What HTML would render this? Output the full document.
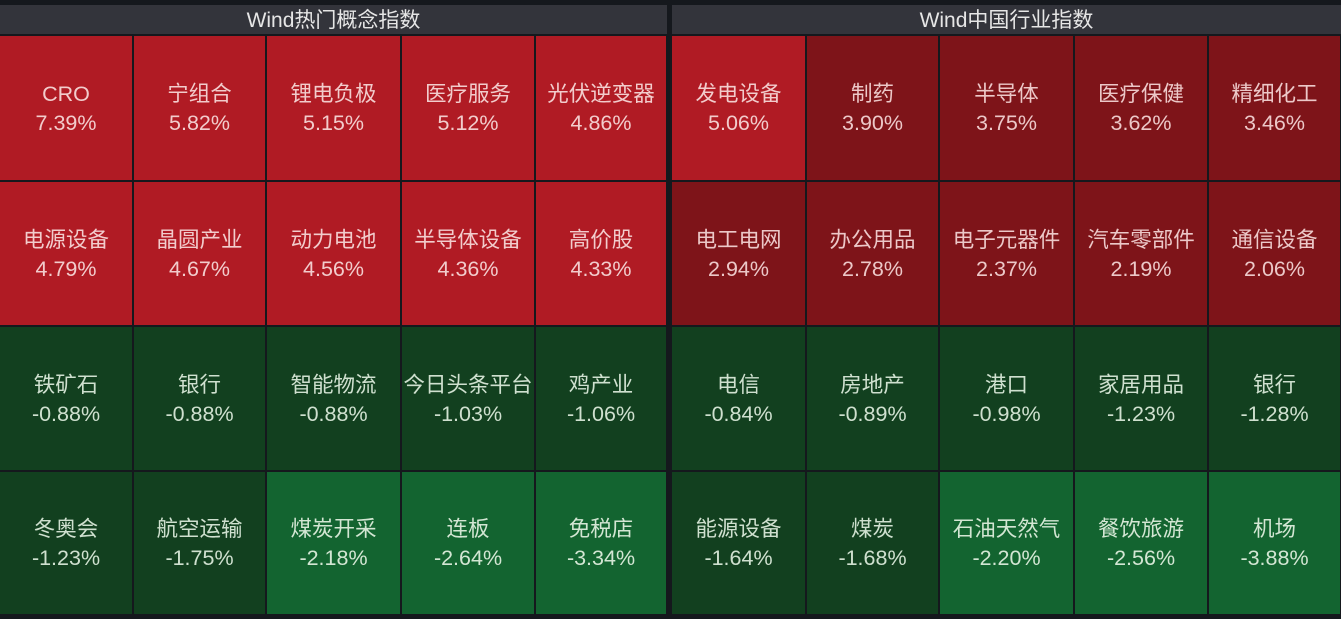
<!DOCTYPE html>
<html><head><meta charset="utf-8"><style>
body{margin:0;width:1341px;height:619px;background:#15181d;position:relative;overflow:hidden;font-family:"Liberation Sans","Noto Sans CJK SC",sans-serif;}
.h{position:absolute;top:5px;height:29px;background:#33343b;color:#e6e6e6;font-size:21px;line-height:31px;text-align:center;}
.c{position:absolute;display:flex;flex-direction:column;justify-content:center;align-items:center;font-size:21.5px;line-height:29px;padding-top:2px;color:#e8d0d0;box-sizing:border-box;}
.R{background:#b01b24;color:#f2cccc}.D{background:#7e1419;color:#ecc8c8}.G{background:#12401f;color:#cfe0cf}.L{background:#136430;color:#d3e6d3}
</style></head><body>
<div class="h" style="left:0;width:667px">Wind热门概念指数</div>
<div class="h" style="left:672px;width:669px">Wind中国行业指数</div>
<div id="g"></div>
<script>
const L=[0,133,266,401,535,667],R=[672,806,939,1074,1208,1341],Y=[36,181,326,471,615];
const d=[
[["CRO","7.39%","R"],["宁组合","5.82%","R"],["锂电负极","5.15%","R"],["医疗服务","5.12%","R"],["光伏逆变器","4.86%","R"],["发电设备","5.06%","R"],["制药","3.90%","D"],["半导体","3.75%","D"],["医疗保健","3.62%","D"],["精细化工","3.46%","D"]],
[["电源设备","4.79%","R"],["晶圆产业","4.67%","R"],["动力电池","4.56%","R"],["半导体设备","4.36%","R"],["高价股","4.33%","R"],["电工电网","2.94%","D"],["办公用品","2.78%","D"],["电子元器件","2.37%","D"],["汽车零部件","2.19%","D"],["通信设备","2.06%","D"]],
[["铁矿石","-0.88%","G"],["银行","-0.88%","G"],["智能物流","-0.88%","G"],["今日头条平台","-1.03%","G"],["鸡产业","-1.06%","G"],["电信","-0.84%","G"],["房地产","-0.89%","G"],["港口","-0.98%","G"],["家居用品","-1.23%","G"],["银行","-1.28%","G"]],
[["冬奥会","-1.23%","G"],["航空运输","-1.75%","G"],["煤炭开采","-2.18%","L"],["连板","-2.64%","L"],["免税店","-3.34%","L"],["能源设备","-1.64%","G"],["煤炭","-1.68%","G"],["石油天然气","-2.20%","L"],["餐饮旅游","-2.56%","L"],["机场","-3.88%","L"]]];
let h="";
for(let r=0;r<4;r++)for(let i=0;i<10;i++){const X=i<5?L:R,k=i%5,[n,p,c]=d[r][i];
const x=X[k]+(k?1:0),w=X[k+1]-1-x,y=Y[r]+(r?1:0),hh=Y[r+1]-1-y;
h+=`<div class="c ${c}" style="left:${x}px;top:${y}px;width:${w}px;height:${hh}px"><div>${n}</div><div>${p}</div></div>`;}
document.getElementById("g").innerHTML=h;
</script>
</body></html>
